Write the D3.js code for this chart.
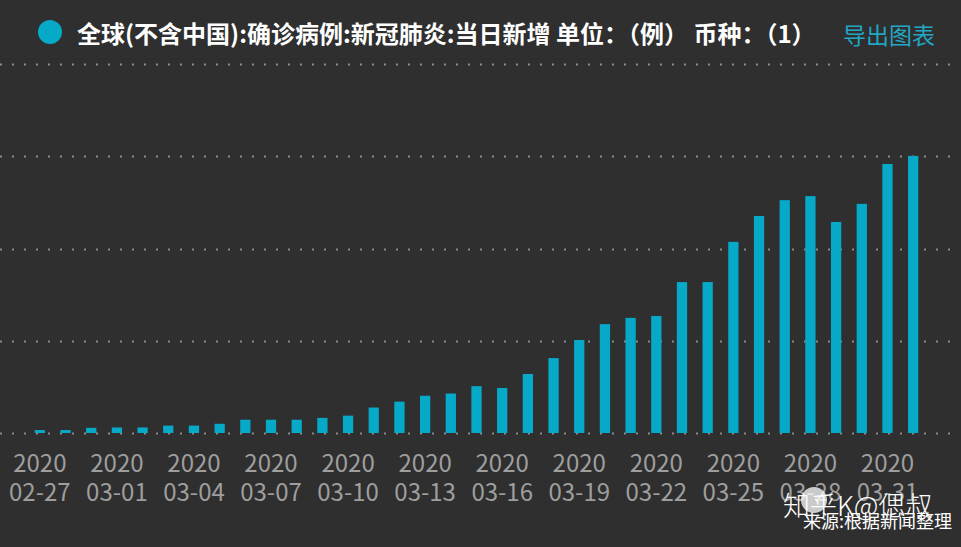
<!DOCTYPE html>
<html>
<head>
<meta charset="utf-8">
<script src="https://cdn.jsdelivr.net/npm/d3@7"></script>
<style>
  body { margin: 0; background: #2f2f2f; }
  svg { display: block; font-family: "Noto Sans CJK SC", "Noto Sans", sans-serif; }
</style>
</head>
<body>
<div id="chart"></div>
<script>
// daily new confirmed cases, world excluding China
var dates = ["02-27","02-28","02-29","03-01","03-02","03-03","03-04","03-05","03-06","03-07",
  "03-08","03-09","03-10","03-11","03-12","03-13","03-14","03-15","03-16","03-17",
  "03-18","03-19","03-20","03-21","03-22","03-23","03-24","03-25","03-26","03-27",
  "03-28","03-29","03-30","03-31","04-01"];
var newCases = [800, 800, 1400, 1500, 1500, 2000, 2000, 2500, 3600, 3600,
  3600, 4100, 4700, 6900, 8500, 10100, 10700, 12700, 12200, 16000,
  20300, 25200, 29500, 31200, 31700, 40900, 40900, 51800, 58800, 63100,
  64200, 57200, 62100, 72900, 75100];
var yTicks = [0, 25000, 50000, 75000, 100000];
var labelEvery = 3;

var width = 961, height = 547;
var barColor = "#06a9c7";

var svg = d3.select("#chart").append("svg")
  .attr("width", width)
  .attr("height", height);

svg.append("rect")
  .attr("width", width)
  .attr("height", height)
  .attr("fill", "#2f2f2f");

var x = d3.scaleBand()
  .domain(dates)
  .range([27, 926])
  .paddingInner(0.6)
  .paddingOuter(0.3);

var y = d3.scaleLinear()
  .domain([0, 100000])
  .range([433, 64]);

// dotted grid
svg.append("g")
  .selectAll("line")
  .data(yTicks)
  .enter().append("line")
  .attr("x1", 0)
  .attr("x2", 950)
  .attr("y1", function(d) { return Math.round(y(d)) + 0.5; })
  .attr("y2", function(d) { return Math.round(y(d)) + 0.5; })
  .style("stroke", "#8a8a8a")
  .style("stroke-width", 2)
  .style("stroke-dasharray", "2,10");

svg.append("g")
  .selectAll("rect")
  .data(newCases)
  .enter().append("rect")
  .attr("x", function(d, i) { return x(dates[i]); })
  .attr("y", function(d) { return y(d); })
  .attr("width", x.bandwidth())
  .attr("height", function(d) { return y(0) - y(d); })
  .attr("fill", barColor);

// x axis, two line labels
var xAxis = d3.axisBottom(x)
  .tickValues(dates.filter(function(d, i) { return i % labelEvery == 0; }))
  .tickSize(0)
  .tickPadding(0);

var axisG = svg.append("g")
  .attr("transform", "translate(0,448)")
  .call(xAxis);

axisG.select(".domain").remove();
axisG.selectAll("text")
  .attr("fill", "#9e9e9e")
  .attr("font-size", 24)
  .attr("font-family", "\"Noto Sans CJK SC\", sans-serif")
  .attr("dy", null)
  .text(null)
  .each(function(d) {
    var t = d3.select(this);
    t.append("tspan").attr("x", 0).attr("y", 24).text("2020");
    t.append("tspan").attr("x", 0).attr("y", 53).text(d);
  });

// legend / title
svg.append("circle")
  .attr("cx", 50)
  .attr("cy", 32)
  .attr("r", 12)
  .attr("fill", barColor);

svg.append("text")
  .attr("x", 77)
  .attr("y", 43)
  .attr("fill", "#ffffff")
  .attr("font-size", 24)
  .attr("font-weight", "bold")
  .text("全球(不含中国):确诊病例:新冠肺炎:当日新增 单位：（例） 币种：（1）");

svg.append("text")
  .attr("x", 935)
  .attr("y", 44)
  .attr("fill", "#22a6c3")
  .attr("font-size", 23)
  .style("text-anchor", "end")
  .text("导出图表");

// watermark
var wm = svg.append("g");
wm.append("circle")
  .attr("cx", 814)
  .attr("cy", 500)
  .attr("r", 13)
  .attr("fill", "#ffffff")
  .attr("opacity", 0.75);
wm.append("text")
  .attr("x", 783)
  .attr("y", 516)
  .attr("fill", "#ffffff")
  .attr("font-size", 27)
  .attr("font-weight", 300)
  .text("知乎K@偲叔");
wm.append("text")
  .attr("x", 803)
  .attr("y", 528)
  .attr("fill", "#ffffff")
  .attr("font-size", 18)
  .text("来源:根据新闻整理");
</script>
</body>
</html>
